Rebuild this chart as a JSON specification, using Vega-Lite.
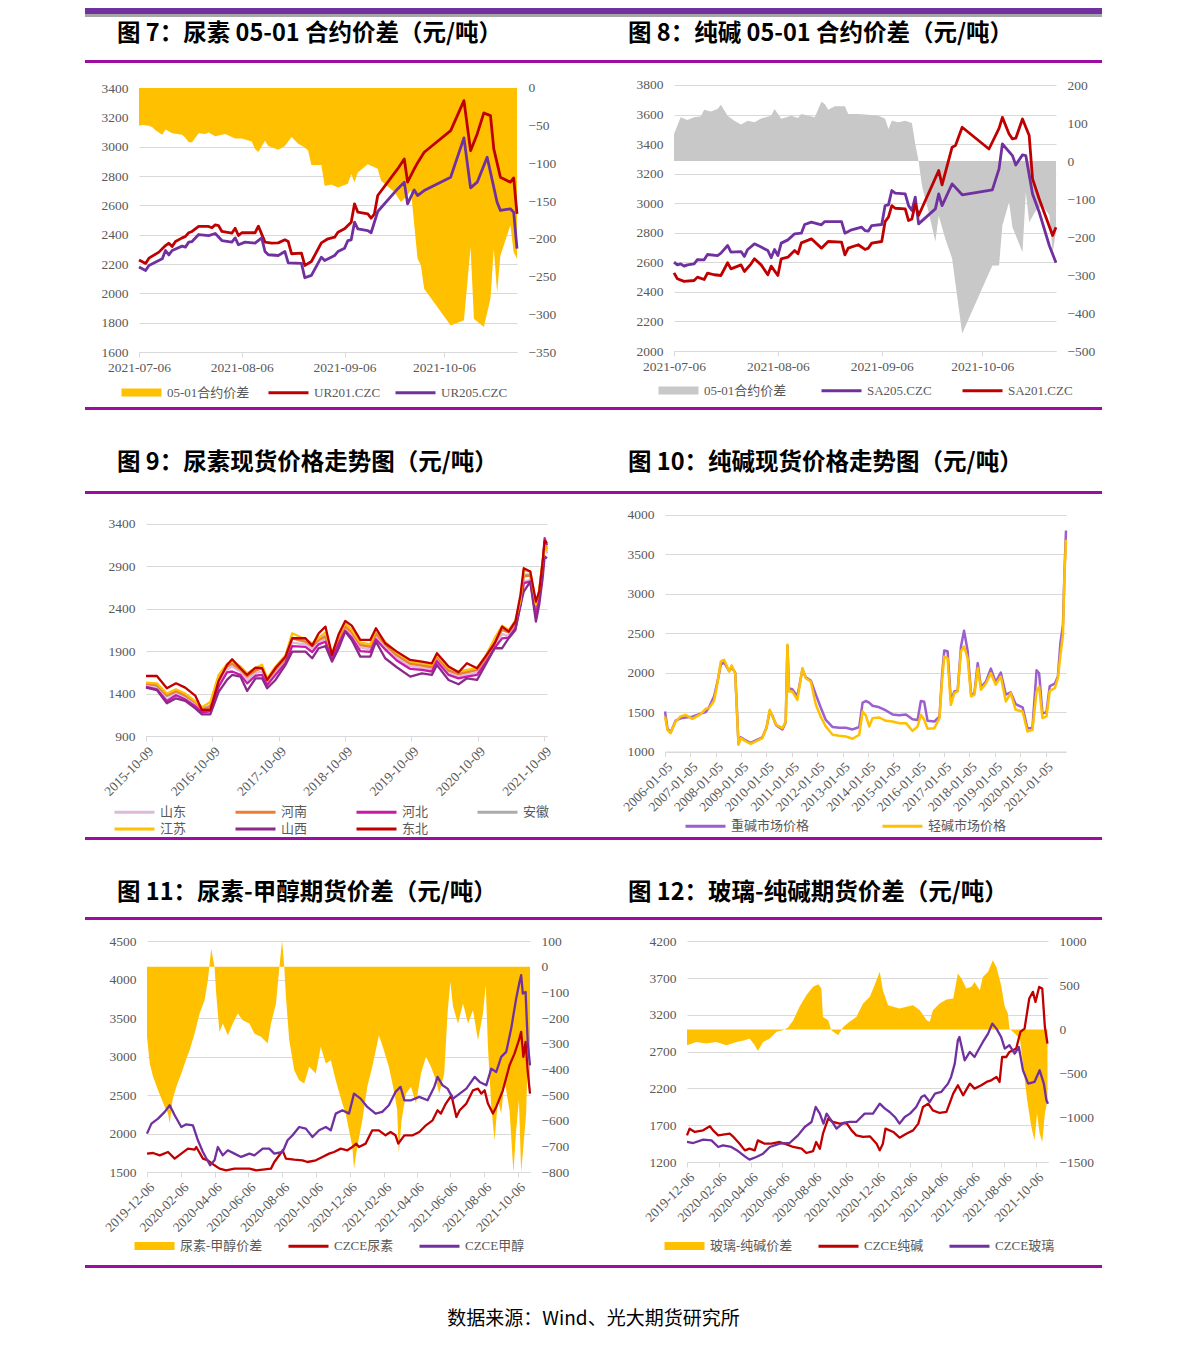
{
"$schema": "https://vega.github.io/schema/vega-lite/v6.json",
"background": "white",
"padding": {"left": 85, "top": 8, "right": 10, "bottom": 10},
"spacing": 40,
"resolve": {"scale": {"color": "independent", "fill": "independent", "stroke": "independent"}, "legend": {"color": "independent", "fill": "independent", "stroke": "independent"}},
"title": {"text": "数据来源：Wind、光大期货研究所", "orient": "bottom", "anchor": "middle", "offset": 42, "font": "Noto Sans CJK SC", "fontSize": 19, "fontWeight": "normal", "color": "#000000"},
"datasets": {
"p7area": [{"d":"2021-07-06","v":-50},{"d":"2021-07-07","v":-49},{"d":"2021-07-09","v":-50},{"d":"2021-07-10","v":-52},{"d":"2021-07-11","v":-56},{"d":"2021-07-13","v":-62},{"d":"2021-07-14","v":-55},{"d":"2021-07-16","v":-60},{"d":"2021-07-19","v":-62},{"d":"2021-07-20","v":-66},{"d":"2021-07-21","v":-72},{"d":"2021-07-22","v":-72},{"d":"2021-07-24","v":-60},{"d":"2021-07-26","v":-61},{"d":"2021-07-27","v":-59},{"d":"2021-07-29","v":-64},{"d":"2021-08-01","v":-61},{"d":"2021-08-04","v":-67},{"d":"2021-08-06","v":-67},{"d":"2021-08-09","v":-71},{"d":"2021-08-10","v":-81},{"d":"2021-08-11","v":-85},{"d":"2021-08-13","v":-70},{"d":"2021-08-14","v":-77},{"d":"2021-08-17","v":-82},{"d":"2021-08-19","v":-77},{"d":"2021-08-21","v":-65},{"d":"2021-08-23","v":-74},{"d":"2021-08-25","v":-79},{"d":"2021-08-26","v":-83},{"d":"2021-08-27","v":-102},{"d":"2021-08-30","v":-102},{"d":"2021-08-31","v":-130},{"d":"2021-09-02","v":-128},{"d":"2021-09-04","v":-132},{"d":"2021-09-07","v":-127},{"d":"2021-09-08","v":-114},{"d":"2021-09-09","v":-125},{"d":"2021-09-10","v":-112},{"d":"2021-09-13","v":-101},{"d":"2021-09-14","v":-103},{"d":"2021-09-16","v":-107},{"d":"2021-09-17","v":-123},{"d":"2021-09-21","v":-138},{"d":"2021-09-23","v":-151},{"d":"2021-09-24","v":-147},{"d":"2021-09-26","v":-136},{"d":"2021-09-28","v":-226},{"d":"2021-09-29","v":-235},{"d":"2021-09-30","v":-266},{"d":"2021-10-08","v":-315},{"d":"2021-10-12","v":-308},{"d":"2021-10-14","v":-211},{"d":"2021-10-15","v":-306},{"d":"2021-10-18","v":-317},{"d":"2021-10-20","v":-279},{"d":"2021-10-21","v":-213},{"d":"2021-10-22","v":-271},{"d":"2021-10-23","v":-222},{"d":"2021-10-26","v":-182},{"d":"2021-10-27","v":-218},{"d":"2021-10-28","v":-226}],
"p7line": [
{"d":"2021-07-06","s":"UR201.CZC","v":2228},{"d":"2021-07-08","s":"UR201.CZC","v":2204},{"d":"2021-07-09","s":"UR201.CZC","v":2240},{"d":"2021-07-12","s":"UR201.CZC","v":2281},{"d":"2021-07-14","s":"UR201.CZC","v":2326},{"d":"2021-07-15","s":"UR201.CZC","v":2342},{"d":"2021-07-16","s":"UR201.CZC","v":2320},{"d":"2021-07-17","s":"UR201.CZC","v":2353},{"d":"2021-07-19","s":"UR201.CZC","v":2378},{"d":"2021-07-20","s":"UR201.CZC","v":2388},{"d":"2021-07-21","s":"UR201.CZC","v":2413},{"d":"2021-07-22","s":"UR201.CZC","v":2422},{"d":"2021-07-24","s":"UR201.CZC","v":2456},{"d":"2021-07-27","s":"UR201.CZC","v":2456},{"d":"2021-07-28","s":"UR201.CZC","v":2447},{"d":"2021-07-29","s":"UR201.CZC","v":2467},{"d":"2021-07-30","s":"UR201.CZC","v":2462},{"d":"2021-07-31","s":"UR201.CZC","v":2422},{"d":"2021-08-03","s":"UR201.CZC","v":2410},{"d":"2021-08-04","s":"UR201.CZC","v":2444},{"d":"2021-08-05","s":"UR201.CZC","v":2394},{"d":"2021-08-06","s":"UR201.CZC","v":2413},{"d":"2021-08-10","s":"UR201.CZC","v":2413},{"d":"2021-08-11","s":"UR201.CZC","v":2458},{"d":"2021-08-13","s":"UR201.CZC","v":2349},{"d":"2021-08-15","s":"UR201.CZC","v":2342},{"d":"2021-08-17","s":"UR201.CZC","v":2344},{"d":"2021-08-19","s":"UR201.CZC","v":2365},{"d":"2021-08-20","s":"UR201.CZC","v":2353},{"d":"2021-08-21","s":"UR201.CZC","v":2270},{"d":"2021-08-24","s":"UR201.CZC","v":2274},{"d":"2021-08-25","s":"UR201.CZC","v":2190},{"d":"2021-08-27","s":"UR201.CZC","v":2217},{"d":"2021-08-30","s":"UR201.CZC","v":2344},{"d":"2021-09-01","s":"UR201.CZC","v":2372},{"d":"2021-09-03","s":"UR201.CZC","v":2383},{"d":"2021-09-04","s":"UR201.CZC","v":2417},{"d":"2021-09-06","s":"UR201.CZC","v":2440},{"d":"2021-09-08","s":"UR201.CZC","v":2485},{"d":"2021-09-09","s":"UR201.CZC","v":2610},{"d":"2021-09-10","s":"UR201.CZC","v":2553},{"d":"2021-09-13","s":"UR201.CZC","v":2542},{"d":"2021-09-14","s":"UR201.CZC","v":2512},{"d":"2021-09-15","s":"UR201.CZC","v":2542},{"d":"2021-09-16","s":"UR201.CZC","v":2667},{"d":"2021-09-22","s":"UR201.CZC","v":2848},{"d":"2021-09-24","s":"UR201.CZC","v":2916},{"d":"2021-09-25","s":"UR201.CZC","v":2758},{"d":"2021-09-27","s":"UR201.CZC","v":2848},{"d":"2021-09-28","s":"UR201.CZC","v":2889},{"d":"2021-09-30","s":"UR201.CZC","v":2962},{"d":"2021-10-08","s":"UR201.CZC","v":3109},{"d":"2021-10-12","s":"UR201.CZC","v":3314},{"d":"2021-10-14","s":"UR201.CZC","v":2973},{"d":"2021-10-16","s":"UR201.CZC","v":3087},{"d":"2021-10-18","s":"UR201.CZC","v":3230},{"d":"2021-10-20","s":"UR201.CZC","v":3212},{"d":"2021-10-21","s":"UR201.CZC","v":2985},{"d":"2021-10-23","s":"UR201.CZC","v":2792},{"d":"2021-10-26","s":"UR201.CZC","v":2758},{"d":"2021-10-27","s":"UR201.CZC","v":2787},{"d":"2021-10-28","s":"UR201.CZC","v":2542},
{"d":"2021-07-06","s":"UR205.CZC","v":2179},{"d":"2021-07-08","s":"UR205.CZC","v":2156},{"d":"2021-07-09","s":"UR205.CZC","v":2190},{"d":"2021-07-13","s":"UR205.CZC","v":2235},{"d":"2021-07-14","s":"UR205.CZC","v":2292},{"d":"2021-07-15","s":"UR205.CZC","v":2262},{"d":"2021-07-16","s":"UR205.CZC","v":2292},{"d":"2021-07-19","s":"UR205.CZC","v":2322},{"d":"2021-07-20","s":"UR205.CZC","v":2315},{"d":"2021-07-21","s":"UR205.CZC","v":2349},{"d":"2021-07-22","s":"UR205.CZC","v":2353},{"d":"2021-07-24","s":"UR205.CZC","v":2401},{"d":"2021-07-27","s":"UR205.CZC","v":2394},{"d":"2021-07-29","s":"UR205.CZC","v":2408},{"d":"2021-07-31","s":"UR205.CZC","v":2360},{"d":"2021-08-03","s":"UR205.CZC","v":2349},{"d":"2021-08-04","s":"UR205.CZC","v":2378},{"d":"2021-08-05","s":"UR205.CZC","v":2331},{"d":"2021-08-07","s":"UR205.CZC","v":2349},{"d":"2021-08-10","s":"UR205.CZC","v":2342},{"d":"2021-08-12","s":"UR205.CZC","v":2378},{"d":"2021-08-13","s":"UR205.CZC","v":2285},{"d":"2021-08-14","s":"UR205.CZC","v":2263},{"d":"2021-08-17","s":"UR205.CZC","v":2258},{"d":"2021-08-19","s":"UR205.CZC","v":2285},{"d":"2021-08-20","s":"UR205.CZC","v":2208},{"d":"2021-08-24","s":"UR205.CZC","v":2204},{"d":"2021-08-25","s":"UR205.CZC","v":2106},{"d":"2021-08-27","s":"UR205.CZC","v":2122},{"d":"2021-08-30","s":"UR205.CZC","v":2247},{"d":"2021-08-31","s":"UR205.CZC","v":2224},{"d":"2021-09-03","s":"UR205.CZC","v":2258},{"d":"2021-09-04","s":"UR205.CZC","v":2285},{"d":"2021-09-06","s":"UR205.CZC","v":2308},{"d":"2021-09-07","s":"UR205.CZC","v":2360},{"d":"2021-09-08","s":"UR205.CZC","v":2365},{"d":"2021-09-09","s":"UR205.CZC","v":2485},{"d":"2021-09-10","s":"UR205.CZC","v":2440},{"d":"2021-09-13","s":"UR205.CZC","v":2428},{"d":"2021-09-14","s":"UR205.CZC","v":2413},{"d":"2021-09-16","s":"UR205.CZC","v":2558},{"d":"2021-09-22","s":"UR205.CZC","v":2712},{"d":"2021-09-24","s":"UR205.CZC","v":2758},{"d":"2021-09-25","s":"UR205.CZC","v":2610},{"d":"2021-09-27","s":"UR205.CZC","v":2705},{"d":"2021-09-28","s":"UR205.CZC","v":2667},{"d":"2021-09-30","s":"UR205.CZC","v":2701},{"d":"2021-10-08","s":"UR205.CZC","v":2792},{"d":"2021-10-12","s":"UR205.CZC","v":3060},{"d":"2021-10-14","s":"UR205.CZC","v":2719},{"d":"2021-10-16","s":"UR205.CZC","v":2758},{"d":"2021-10-19","s":"UR205.CZC","v":2928},{"d":"2021-10-22","s":"UR205.CZC","v":2621},{"d":"2021-10-23","s":"UR205.CZC","v":2565},{"d":"2021-10-26","s":"UR205.CZC","v":2576},{"d":"2021-10-27","s":"UR205.CZC","v":2553},{"d":"2021-10-28","s":"UR205.CZC","v":2304}],
"p8area": [{"d":"2021-07-06","v":71},{"d":"2021-07-08","v":115},{"d":"2021-07-10","v":108},{"d":"2021-07-12","v":115},{"d":"2021-07-14","v":118},{"d":"2021-07-15","v":135},{"d":"2021-07-17","v":130},{"d":"2021-07-19","v":137},{"d":"2021-07-20","v":148},{"d":"2021-07-22","v":119},{"d":"2021-07-24","v":106},{"d":"2021-07-26","v":96},{"d":"2021-07-28","v":106},{"d":"2021-07-30","v":102},{"d":"2021-08-01","v":112},{"d":"2021-08-04","v":119},{"d":"2021-08-05","v":137},{"d":"2021-08-07","v":111},{"d":"2021-08-10","v":119},{"d":"2021-08-12","v":113},{"d":"2021-08-13","v":124},{"d":"2021-08-17","v":115},{"d":"2021-08-19","v":156},{"d":"2021-08-20","v":150},{"d":"2021-08-21","v":135},{"d":"2021-08-23","v":144},{"d":"2021-08-26","v":144},{"d":"2021-08-27","v":124},{"d":"2021-08-30","v":124},{"d":"2021-09-02","v":122},{"d":"2021-09-05","v":119},{"d":"2021-09-07","v":111},{"d":"2021-09-08","v":84},{"d":"2021-09-09","v":106},{"d":"2021-09-11","v":102},{"d":"2021-09-13","v":106},{"d":"2021-09-15","v":100},{"d":"2021-09-16","v":45},{"d":"2021-09-17","v":0},{"d":"2021-09-18","v":-65},{"d":"2021-09-20","v":-135},{"d":"2021-09-22","v":-212},{"d":"2021-09-23","v":-144},{"d":"2021-09-25","v":-205},{"d":"2021-09-27","v":-257},{"d":"2021-09-30","v":-454},{"d":"2021-10-09","v":-275},{"d":"2021-10-11","v":-275},{"d":"2021-10-12","v":-170},{"d":"2021-10-14","v":-108},{"d":"2021-10-15","v":-174},{"d":"2021-10-18","v":-240},{"d":"2021-10-19","v":-82},{"d":"2021-10-20","v":-161},{"d":"2021-10-22","v":-130},{"d":"2021-10-24","v":-117},{"d":"2021-10-26","v":-143},{"d":"2021-10-27","v":-240},{"d":"2021-10-28","v":-187}],
"p8line": [
{"d":"2021-07-06","s":"SA205.CZC","v":2601},{"d":"2021-07-07","s":"SA205.CZC","v":2583},{"d":"2021-07-08","s":"SA205.CZC","v":2590},{"d":"2021-07-09","s":"SA205.CZC","v":2574},{"d":"2021-07-10","s":"SA205.CZC","v":2583},{"d":"2021-07-12","s":"SA205.CZC","v":2590},{"d":"2021-07-13","s":"SA205.CZC","v":2619},{"d":"2021-07-15","s":"SA205.CZC","v":2617},{"d":"2021-07-16","s":"SA205.CZC","v":2653},{"d":"2021-07-19","s":"SA205.CZC","v":2646},{"d":"2021-07-20","s":"SA205.CZC","v":2662},{"d":"2021-07-22","s":"SA205.CZC","v":2714},{"d":"2021-07-23","s":"SA205.CZC","v":2669},{"d":"2021-07-26","s":"SA205.CZC","v":2673},{"d":"2021-07-27","s":"SA205.CZC","v":2640},{"d":"2021-07-28","s":"SA205.CZC","v":2687},{"d":"2021-07-30","s":"SA205.CZC","v":2725},{"d":"2021-08-01","s":"SA205.CZC","v":2703},{"d":"2021-08-03","s":"SA205.CZC","v":2680},{"d":"2021-08-04","s":"SA205.CZC","v":2631},{"d":"2021-08-05","s":"SA205.CZC","v":2687},{"d":"2021-08-06","s":"SA205.CZC","v":2646},{"d":"2021-08-07","s":"SA205.CZC","v":2730},{"d":"2021-08-09","s":"SA205.CZC","v":2752},{"d":"2021-08-11","s":"SA205.CZC","v":2793},{"d":"2021-08-13","s":"SA205.CZC","v":2797},{"d":"2021-08-14","s":"SA205.CZC","v":2856},{"d":"2021-08-16","s":"SA205.CZC","v":2872},{"d":"2021-08-19","s":"SA205.CZC","v":2854},{"d":"2021-08-20","s":"SA205.CZC","v":2876},{"d":"2021-08-25","s":"SA205.CZC","v":2876},{"d":"2021-08-26","s":"SA205.CZC","v":2797},{"d":"2021-08-28","s":"SA205.CZC","v":2820},{"d":"2021-08-31","s":"SA205.CZC","v":2838},{"d":"2021-09-01","s":"SA205.CZC","v":2815},{"d":"2021-09-02","s":"SA205.CZC","v":2811},{"d":"2021-09-03","s":"SA205.CZC","v":2849},{"d":"2021-09-06","s":"SA205.CZC","v":2856},{"d":"2021-09-07","s":"SA205.CZC","v":2984},{"d":"2021-09-08","s":"SA205.CZC","v":2989},{"d":"2021-09-09","s":"SA205.CZC","v":3086},{"d":"2021-09-10","s":"SA205.CZC","v":3068},{"d":"2021-09-13","s":"SA205.CZC","v":3063},{"d":"2021-09-14","s":"SA205.CZC","v":2984},{"d":"2021-09-15","s":"SA205.CZC","v":2951},{"d":"2021-09-16","s":"SA205.CZC","v":3041},{"d":"2021-09-17","s":"SA205.CZC","v":2860},{"d":"2021-09-22","s":"SA205.CZC","v":2962},{"d":"2021-09-23","s":"SA205.CZC","v":3063},{"d":"2021-09-24","s":"SA205.CZC","v":2984},{"d":"2021-09-27","s":"SA205.CZC","v":3131},{"d":"2021-09-30","s":"SA205.CZC","v":3057},{"d":"2021-10-09","s":"SA205.CZC","v":3090},{"d":"2021-10-11","s":"SA205.CZC","v":3232},{"d":"2021-10-12","s":"SA205.CZC","v":3401},{"d":"2021-10-15","s":"SA205.CZC","v":3322},{"d":"2021-10-16","s":"SA205.CZC","v":3259},{"d":"2021-10-18","s":"SA205.CZC","v":3327},{"d":"2021-10-19","s":"SA205.CZC","v":3322},{"d":"2021-10-21","s":"SA205.CZC","v":3063},{"d":"2021-10-23","s":"SA205.CZC","v":2939},{"d":"2021-10-26","s":"SA205.CZC","v":2714},{"d":"2021-10-28","s":"SA205.CZC","v":2597},
{"d":"2021-07-06","s":"SA201.CZC","v":2529},{"d":"2021-07-07","s":"SA201.CZC","v":2489},{"d":"2021-07-09","s":"SA201.CZC","v":2471},{"d":"2021-07-12","s":"SA201.CZC","v":2477},{"d":"2021-07-13","s":"SA201.CZC","v":2500},{"d":"2021-07-15","s":"SA201.CZC","v":2484},{"d":"2021-07-16","s":"SA201.CZC","v":2527},{"d":"2021-07-18","s":"SA201.CZC","v":2516},{"d":"2021-07-20","s":"SA201.CZC","v":2511},{"d":"2021-07-22","s":"SA201.CZC","v":2597},{"d":"2021-07-23","s":"SA201.CZC","v":2556},{"d":"2021-07-26","s":"SA201.CZC","v":2583},{"d":"2021-07-27","s":"SA201.CZC","v":2538},{"d":"2021-07-29","s":"SA201.CZC","v":2590},{"d":"2021-07-30","s":"SA201.CZC","v":2624},{"d":"2021-08-01","s":"SA201.CZC","v":2583},{"d":"2021-08-03","s":"SA201.CZC","v":2516},{"d":"2021-08-04","s":"SA201.CZC","v":2574},{"d":"2021-08-06","s":"SA201.CZC","v":2511},{"d":"2021-08-07","s":"SA201.CZC","v":2624},{"d":"2021-08-09","s":"SA201.CZC","v":2635},{"d":"2021-08-11","s":"SA201.CZC","v":2680},{"d":"2021-08-12","s":"SA201.CZC","v":2658},{"d":"2021-08-13","s":"SA201.CZC","v":2732},{"d":"2021-08-16","s":"SA201.CZC","v":2759},{"d":"2021-08-19","s":"SA201.CZC","v":2696},{"d":"2021-08-21","s":"SA201.CZC","v":2741},{"d":"2021-08-25","s":"SA201.CZC","v":2737},{"d":"2021-08-26","s":"SA201.CZC","v":2651},{"d":"2021-08-27","s":"SA201.CZC","v":2696},{"d":"2021-08-30","s":"SA201.CZC","v":2719},{"d":"2021-09-01","s":"SA201.CZC","v":2687},{"d":"2021-09-02","s":"SA201.CZC","v":2696},{"d":"2021-09-03","s":"SA201.CZC","v":2730},{"d":"2021-09-06","s":"SA201.CZC","v":2741},{"d":"2021-09-07","s":"SA201.CZC","v":2876},{"d":"2021-09-08","s":"SA201.CZC","v":2906},{"d":"2021-09-09","s":"SA201.CZC","v":2984},{"d":"2021-09-10","s":"SA201.CZC","v":2966},{"d":"2021-09-13","s":"SA201.CZC","v":2962},{"d":"2021-09-14","s":"SA201.CZC","v":2883},{"d":"2021-09-15","s":"SA201.CZC","v":2894},{"d":"2021-09-16","s":"SA201.CZC","v":2996},{"d":"2021-09-17","s":"SA201.CZC","v":2917},{"d":"2021-09-23","s":"SA201.CZC","v":3221},{"d":"2021-09-24","s":"SA201.CZC","v":3124},{"d":"2021-09-27","s":"SA201.CZC","v":3379},{"d":"2021-09-28","s":"SA201.CZC","v":3390},{"d":"2021-09-30","s":"SA201.CZC","v":3514},{"d":"2021-10-08","s":"SA201.CZC","v":3367},{"d":"2021-10-11","s":"SA201.CZC","v":3507},{"d":"2021-10-12","s":"SA201.CZC","v":3581},{"d":"2021-10-14","s":"SA201.CZC","v":3469},{"d":"2021-10-15","s":"SA201.CZC","v":3435},{"d":"2021-10-16","s":"SA201.CZC","v":3440},{"d":"2021-10-18","s":"SA201.CZC","v":3570},{"d":"2021-10-20","s":"SA201.CZC","v":3458},{"d":"2021-10-21","s":"SA201.CZC","v":3165},{"d":"2021-10-23","s":"SA201.CZC","v":3029},{"d":"2021-10-27","s":"SA201.CZC","v":2782},{"d":"2021-10-28","s":"SA201.CZC","v":2838}],
"p9": [
{"d":"2015-10-09","东北":1607,"江苏":1530,"安徽":1510,"河南":1520,"山东":1490,"河北":1480,"山西":1470},
{"d":"2015-12-08","东北":1607,"江苏":1520,"安徽":1490,"河南":1500,"山东":1460,"河北":1450,"山西":1440},
{"d":"2016-02-01","东北":1462,"江苏":1400,"安徽":1370,"河南":1380,"山东":1330,"河北":1310,"山西":1285},
{"d":"2016-03-22","东北":1521,"江苏":1450,"安徽":1420,"河南":1430,"山东":1390,"河北":1380,"山西":1344},
{"d":"2016-05-12","东北":1470,"江苏":1400,"安徽":1370,"河南":1380,"山东":1340,"河北":1330,"山西":1313},
{"d":"2016-07-06","东北":1376,"江苏":1310,"安徽":1290,"河南":1300,"山东":1260,"河北":1250,"山西":1226},
{"d":"2016-08-12","东北":1207,"江苏":1240,"安徽":1220,"河南":1210,"山东":1190,"河北":1180,"山西":1155},
{"d":"2016-09-27","东北":1207,"江苏":1300,"安徽":1260,"河南":1240,"山东":1200,"河北":1190,"山西":1155},
{"d":"2016-11-12","东北":1549,"江苏":1620,"安徽":1580,"河南":1570,"山东":1500,"河北":1480,"山西":1420},
{"d":"2016-12-28","东北":1737,"江苏":1750,"安徽":1720,"河南":1720,"山东":1680,"河北":1650,"山西":1561},
{"d":"2017-01-25","东北":1804,"江苏":1780,"安徽":1760,"河南":1750,"山东":1720,"河北":1660,"山西":1619},
{"d":"2017-03-12","东北":1698,"江苏":1720,"安徽":1700,"河南":1680,"山东":1660,"河北":1620,"山西":1600},
{"d":"2017-04-18","东北":1619,"江苏":1640,"安徽":1600,"河南":1600,"山东":1560,"河北":1520,"山西":1431},
{"d":"2017-06-03","东北":1706,"江苏":1700,"安徽":1680,"河南":1670,"山东":1640,"河北":1610,"山西":1580},
{"d":"2017-07-09","东北":1700,"江苏":1740,"安徽":1700,"河南":1700,"山东":1660,"河北":1620,"山西":1580},
{"d":"2017-08-06","东北":1561,"江苏":1580,"安徽":1560,"河南":1550,"山东":1520,"河北":1500,"山西":1462},
{"d":"2017-09-21","东北":1700,"江苏":1720,"安徽":1690,"河南":1680,"山东":1650,"河北":1620,"山西":1560},
{"d":"2017-11-15","东北":1835,"江苏":1850,"安徽":1820,"河南":1810,"山东":1780,"河北":1760,"山西":1737},
{"d":"2017-12-22","东北":2052,"江苏":2110,"安徽":2060,"河南":2050,"山东":2000,"河北":1960,"山西":1894},
{"d":"2018-03-05","东北":2052,"江苏":2040,"安徽":2020,"河南":2010,"山东":1980,"河北":1950,"山西":1894},
{"d":"2018-04-11","东北":1965,"江苏":1990,"安徽":1960,"河南":1960,"山东":1930,"河北":1890,"山西":1816},
{"d":"2018-05-17","东北":2110,"江苏":2060,"安徽":2040,"河南":2030,"山东":2000,"河北":1980,"山西":1934},
{"d":"2018-06-23","东北":2189,"江苏":2120,"安徽":2080,"河南":2070,"山东":2040,"河北":2010,"山西":1960},
{"d":"2018-07-29","东北":1855,"江苏":1880,"安徽":1850,"河南":1840,"山东":1820,"河北":1800,"山西":1776},
{"d":"2018-09-04","东北":2100,"江苏":2080,"安徽":2060,"河南":2050,"山东":2020,"河北":1990,"山西":1934},
{"d":"2018-10-10","东北":2256,"江苏":2230,"安徽":2200,"河南":2190,"山东":2160,"河北":2140,"山西":2130},
{"d":"2018-11-15","东北":2200,"江苏":2150,"安徽":2130,"河南":2120,"山东":2080,"河北":2060,"山西":2032},
{"d":"2019-01-01","东北":2032,"江苏":2000,"安徽":1980,"河南":1970,"山东":1940,"河北":1900,"山西":1835},
{"d":"2019-02-25","东北":2032,"江苏":1980,"安徽":1960,"河南":1950,"山东":1920,"河北":1890,"山西":1835},
{"d":"2019-03-28","东北":2170,"江苏":2150,"安徽":2120,"河南":2100,"山东":2060,"河北":2040,"山西":2012},
{"d":"2019-05-18","东北":1993,"江苏":2010,"安徽":1990,"河南":1980,"山东":1950,"河北":1920,"山西":1816},
{"d":"2019-07-21","东北":1894,"江苏":1880,"安徽":1860,"河南":1850,"山东":1820,"河北":1790,"山西":1710},
{"d":"2019-10-03","东北":1796,"江苏":1780,"安徽":1760,"河南":1750,"山东":1720,"河北":1690,"山西":1600},
{"d":"2019-12-06","东北":1776,"江苏":1760,"安徽":1740,"河南":1730,"山东":1700,"河北":1680,"山西":1639},
{"d":"2020-01-30","东北":1757,"江苏":1740,"安徽":1720,"河南":1710,"山东":1690,"河北":1660,"山西":1619},
{"d":"2020-02-27","东北":1875,"江苏":1860,"安徽":1840,"河南":1830,"山东":1800,"河北":1780,"山西":1737},
{"d":"2020-05-01","东北":1718,"江苏":1700,"安徽":1680,"河南":1670,"山东":1640,"河北":1620,"山西":1560},
{"d":"2020-06-25","东北":1650,"江苏":1660,"安徽":1640,"河南":1630,"山东":1600,"河北":1580,"山西":1510},
{"d":"2020-08-10","东北":1757,"江苏":1680,"安徽":1660,"河南":1650,"山东":1620,"河北":1600,"山西":1580},
{"d":"2020-10-05","东北":1698,"江苏":1700,"安徽":1690,"河南":1680,"山东":1650,"河北":1620,"山西":1561},
{"d":"2020-11-20","东北":1835,"江苏":1840,"安徽":1820,"河南":1810,"山东":1780,"河北":1760,"山西":1737},
{"d":"2021-01-10","东北":1993,"江苏":2050,"安徽":2020,"河南":2000,"山东":1960,"河北":1940,"山西":1934},
{"d":"2021-02-20","东北":2189,"江苏":2200,"安徽":2170,"河南":2150,"山东":2100,"河北":2050,"山西":1934},
{"d":"2021-03-28","东北":2130,"江苏":2150,"安徽":2130,"河南":2120,"山东":2080,"河北":2060,"山西":2052},
{"d":"2021-05-04","东北":2250,"江苏":2260,"安徽":2240,"河南":2230,"山东":2200,"河北":2170,"山西":2150},
{"d":"2021-06-01","东北":2563,"江苏":2500,"安徽":2480,"河南":2470,"山东":2450,"河北":2440,"山西":2445},
{"d":"2021-06-19","东北":2877,"江苏":2850,"安徽":2800,"河南":2780,"山东":2720,"河北":2700,"山西":2602},
{"d":"2021-07-25","东北":2837,"江苏":2840,"安徽":2800,"河南":2790,"山东":2740,"河北":2720,"山西":2720},
{"d":"2021-08-25","东北":2484,"江苏":2450,"安徽":2420,"河南":2400,"山东":2350,"河北":2300,"山西":2248},
{"d":"2021-09-12","东北":2602,"江苏":2620,"安徽":2600,"河南":2590,"山东":2560,"河北":2540,"山西":2445},
{"d":"2021-10-01","东北":2956,"江苏":2960,"安徽":2940,"河南":2930,"山东":2900,"河北":2920,"山西":2759},
{"d":"2021-10-12","东北":3199,"江苏":3150,"安徽":3180,"河南":3160,"山东":3190,"河北":3230,"山西":3015},
{"d":"2021-10-25","东北":3172,"江苏":3080,"安徽":3120,"河南":3100,"山东":3050,"河北":3150,"山西":2995}],
"p10": [
{"d":"2006-01-05","重碱市场价格":1507,"轻碱市场价格":1444},{"d":"2006-02-10","重碱市场价格":1290,"轻碱市场价格":1275},{"d":"2006-03-27","重碱市场价格":1240,"轻碱市场价格":1233},{"d":"2006-06-07","重碱市场价格":1390,"轻碱市场价格":1380},{"d":"2006-08-19","重碱市场价格":1420,"轻碱市场价格":1444},{"d":"2006-10-27","重碱市场价格":1430,"轻碱市场价格":1465},{"d":"2007-02-03","重碱市场价格":1440,"轻碱市场价格":1414},{"d":"2007-06-03","重碱市场价格":1480,"轻碱市场价格":1474},{"d":"2007-08-15","重碱市场价格":1500,"轻碱市场价格":1541},{"d":"2007-10-01","重碱市场价格":1560,"轻碱市场价格":1550},{"d":"2007-12-13","重碱市场价格":1700,"轻碱市场价格":1643},{"d":"2008-01-30","重碱市场价格":1880,"轻碱市场价格":1866},{"d":"2008-03-18","重碱市场价格":2100,"轻碱市场价格":2141},{"d":"2008-05-05","重碱市场价格":2130,"轻碱市场价格":2162},{"d":"2008-07-17","重碱市场价格":2020,"轻碱市场价格":2014},{"d":"2008-08-22","重碱市场价格":2070,"轻碱市场价格":2090},{"d":"2008-10-12","重碱市场价格":2000,"轻碱市场价格":1993},{"d":"2008-11-28","重碱市场价格":1100,"轻碱市场价格":1085},{"d":"2009-01-01","重碱市场价格":1180,"轻碱市场价格":1170},{"d":"2009-03-15","重碱市场价格":1140,"轻碱市场价格":1127},{"d":"2009-05-23","重碱市场价格":1110,"轻碱市场价格":1098},{"d":"2009-08-04","重碱市场价格":1140,"轻碱市场价格":1127},{"d":"2009-11-07","重碱市场价格":1180,"轻碱市场价格":1170},{"d":"2010-01-05","重碱市场价格":1300,"轻碱市场价格":1296},{"d":"2010-02-21","重碱市场价格":1510,"轻碱市场价格":1528},{"d":"2010-04-02","重碱市场价格":1450,"轻碱市场价格":1444},{"d":"2010-05-27","重碱市场价格":1330,"轻碱市场价格":1338},{"d":"2010-08-23","重碱市场价格":1280,"轻碱市场价格":1296},{"d":"2010-10-09","重碱市场价格":1370,"轻碱市场价格":1380},{"d":"2010-11-03","重碱市场价格":2340,"轻碱市场价格":2352},{"d":"2010-11-25","重碱市场价格":1800,"轻碱市场价格":1761},{"d":"2011-01-12","重碱市场价格":1790,"轻碱市场价格":1761},{"d":"2011-03-26","重碱市场价格":1700,"轻碱市场价格":1655},{"d":"2011-06-07","重碱市场价格":2040,"轻碱市场价格":2057},{"d":"2011-07-24","重碱市场价格":1940,"轻碱市场价格":1930},{"d":"2011-10-05","重碱市场价格":1900,"轻碱市场价格":1888},{"d":"2011-12-17","重碱市场价格":1720,"轻碱市场价格":1592},{"d":"2012-02-24","重碱市场价格":1560,"轻碱市场价格":1444},{"d":"2012-05-08","重碱市场价格":1400,"轻碱市场价格":1317},{"d":"2012-08-15","重碱市场价格":1310,"轻碱市场价格":1212},{"d":"2012-11-18","重碱市场价格":1300,"轻碱市场价格":1199},{"d":"2013-02-21","重碱市场价格":1300,"轻碱市场价格":1190},{"d":"2013-05-30","重碱市场价格":1280,"轻碱市场价格":1161},{"d":"2013-09-02","重碱市场价格":1310,"轻碱市场价格":1212},{"d":"2013-10-20","重碱市场价格":1620,"轻碱市场价格":1507},{"d":"2013-12-06","重碱市场价格":1640,"轻碱市场价格":1457},{"d":"2014-01-23","重碱市场价格":1620,"轻碱市场价格":1317},{"d":"2014-03-12","重碱市场价格":1580,"轻碱市场价格":1423},{"d":"2014-06-18","重碱市场价格":1560,"轻碱市场价格":1431},{"d":"2014-09-21","重碱市场价格":1520,"轻碱市场价格":1389},{"d":"2014-12-25","重碱市场价格":1470,"轻碱市场价格":1380},{"d":"2015-04-02","重碱市场价格":1460,"轻碱市场价格":1359},{"d":"2015-07-06","重碱市场价格":1470,"轻碱市场价格":1359},{"d":"2015-10-09","重碱市场价格":1410,"轻碱市场价格":1262},{"d":"2015-12-21","重碱市场价格":1400,"轻碱市场价格":1317},{"d":"2016-02-06","重碱市场价格":1640,"轻碱市场价格":1465},{"d":"2016-03-25","重碱市场价格":1630,"轻碱市场价格":1402},{"d":"2016-05-12","重碱市场价格":1390,"轻碱市场价格":1288},{"d":"2016-08-19","重碱市场价格":1380,"轻碱市场价格":1296},{"d":"2016-10-31","重碱市场价格":1440,"轻碱市场价格":1423},{"d":"2016-12-06","重碱市场价格":1950,"轻碱市场价格":1888},{"d":"2017-01-08","重碱市场价格":2280,"轻碱市场价格":2204},{"d":"2017-02-25","重碱市场价格":2270,"轻碱市场价格":2183},{"d":"2017-04-13","重碱市场价格":1650,"轻碱市场价格":1592},{"d":"2017-06-03","重碱市场价格":1760,"轻碱市场价格":1740},{"d":"2017-07-20","重碱市场价格":1770,"轻碱市场价格":1761},{"d":"2017-09-06","重碱市场价格":2330,"轻碱市场价格":2268},{"d":"2017-10-20","重碱市场价格":2530,"轻碱市场价格":2331},{"d":"2017-12-10","重碱市场价格":2280,"轻碱市场价格":2183},{"d":"2018-01-30","重碱市场价格":1720,"轻碱市场价格":1698},{"d":"2018-03-18","重碱市场价格":1740,"轻碱市场价格":1718},{"d":"2018-05-05","重碱市场价格":2120,"轻碱市场价格":2057},{"d":"2018-06-21","重碱市场价格":1810,"轻碱市场价格":1782},{"d":"2018-09-02","重碱市场价格":1890,"轻碱市场价格":1866},{"d":"2018-11-10","重碱市场价格":2050,"轻碱市场价格":1993},{"d":"2019-01-19","重碱市场价格":1880,"轻碱市场价格":1845},{"d":"2019-04-02","重碱市场价格":2000,"轻碱市场价格":1951},{"d":"2019-06-14","重碱市场价格":1720,"轻碱市场价格":1634},{"d":"2019-08-22","重碱市场价格":1750,"轻碱市场价格":1740},{"d":"2019-11-03","重碱市场价格":1600,"轻碱市场价格":1528},{"d":"2020-02-10","重碱市场价格":1560,"轻碱市场价格":1507},{"d":"2020-04-20","重碱市场价格":1290,"轻碱市场价格":1254},{"d":"2020-07-01","重碱市场价格":1300,"轻碱市场价格":1275},{"d":"2020-08-29","重碱市场价格":2030,"轻碱市场价格":1761},{"d":"2020-10-05","重碱市场价格":1990,"轻碱市场价格":1824},{"d":"2020-11-22","重碱市场价格":1480,"轻碱市场价格":1423},{"d":"2021-01-19","重碱市场价格":1500,"轻碱市场价格":1444},{"d":"2021-03-07","重碱市场价格":1830,"轻碱市场价格":1769},{"d":"2021-05-19","重碱市场价格":1860,"轻碱市场价格":1803},{"d":"2021-07-02","重碱市场价格":1950,"轻碱市场价格":1930},{"d":"2021-08-08","重碱市场价格":2380,"轻碱市场价格":2226},{"d":"2021-09-13","重碱市场价格":2600,"轻碱市场价格":2479},{"d":"2021-10-05","重碱市场价格":3280,"轻碱市场价格":3240},{"d":"2021-10-27","重碱市场价格":3800,"轻碱市场价格":3683}],
"p11area": [{"d":"2019-12-06","v":-273},{"d":"2019-12-11","v":-377},{"d":"2019-12-17","v":-429},{"d":"2019-12-26","v":-481},{"d":"2020-01-07","v":-546},{"d":"2020-01-13","v":-572},{"d":"2020-01-16","v":-611},{"d":"2020-01-21","v":-520},{"d":"2020-01-28","v":-468},{"d":"2020-02-06","v":-416},{"d":"2020-02-15","v":-358},{"d":"2020-02-21","v":-325},{"d":"2020-03-01","v":-260},{"d":"2020-03-10","v":-182},{"d":"2020-03-19","v":-130},{"d":"2020-03-25","v":-52},{"d":"2020-03-31","v":71},{"d":"2020-04-06","v":0},{"d":"2020-04-09","v":-104},{"d":"2020-04-15","v":-254},{"d":"2020-04-21","v":-221},{"d":"2020-04-30","v":-267},{"d":"2020-05-09","v":-221},{"d":"2020-05-18","v":-182},{"d":"2020-05-27","v":-208},{"d":"2020-06-08","v":-221},{"d":"2020-06-17","v":-260},{"d":"2020-06-29","v":-273},{"d":"2020-07-11","v":-299},{"d":"2020-07-17","v":-221},{"d":"2020-07-26","v":-143},{"d":"2020-08-01","v":-6},{"d":"2020-08-06","v":104},{"d":"2020-08-10","v":0},{"d":"2020-08-13","v":-117},{"d":"2020-08-19","v":-286},{"d":"2020-08-28","v":-403},{"d":"2020-09-06","v":-442},{"d":"2020-09-15","v":-455},{"d":"2020-09-24","v":-390},{"d":"2020-10-06","v":-416},{"d":"2020-10-15","v":-312},{"d":"2020-10-24","v":-377},{"d":"2020-11-02","v":-364},{"d":"2020-11-11","v":-442},{"d":"2020-11-23","v":-533},{"d":"2020-11-29","v":-572},{"d":"2020-12-05","v":-637},{"d":"2020-12-11","v":-702},{"d":"2020-12-14","v":-787},{"d":"2020-12-20","v":-702},{"d":"2020-12-29","v":-598},{"d":"2021-01-07","v":-468},{"d":"2021-01-16","v":-390},{"d":"2021-01-28","v":-267},{"d":"2021-02-06","v":-325},{"d":"2021-02-15","v":-390},{"d":"2021-02-24","v":-481},{"d":"2021-03-02","v":-559},{"d":"2021-03-05","v":-728},{"d":"2021-03-10","v":-598},{"d":"2021-03-18","v":-494},{"d":"2021-03-27","v":-468},{"d":"2021-04-05","v":-533},{"d":"2021-04-14","v":-416},{"d":"2021-04-23","v":-351},{"d":"2021-05-02","v":-390},{"d":"2021-05-11","v":-442},{"d":"2021-05-17","v":-494},{"d":"2021-05-26","v":-416},{"d":"2021-06-01","v":-182},{"d":"2021-06-06","v":-59},{"d":"2021-06-11","v":-156},{"d":"2021-06-20","v":-221},{"d":"2021-06-29","v":-143},{"d":"2021-07-08","v":-221},{"d":"2021-07-17","v":-169},{"d":"2021-07-26","v":-286},{"d":"2021-08-04","v":-182},{"d":"2021-08-09","v":-72},{"d":"2021-08-13","v":-312},{"d":"2021-08-19","v":-546},{"d":"2021-08-25","v":-676},{"d":"2021-08-31","v":-520},{"d":"2021-09-06","v":-572},{"d":"2021-09-12","v":-442},{"d":"2021-09-21","v":-559},{"d":"2021-09-28","v":-800},{"d":"2021-10-03","v":-637},{"d":"2021-10-08","v":-520},{"d":"2021-10-12","v":-800},{"d":"2021-10-16","v":-702},{"d":"2021-10-21","v":-572},{"d":"2021-10-24","v":-338},{"d":"2021-10-28","v":-481}],
"p11line": [
{"d":"2019-12-06","s":"CZCE尿素","v":1739},{"d":"2019-12-17","s":"CZCE尿素","v":1747},{"d":"2019-12-29","s":"CZCE尿素","v":1717},{"d":"2020-01-13","s":"CZCE尿素","v":1760},{"d":"2020-01-25","s":"CZCE尿素","v":1674},{"d":"2020-02-06","s":"CZCE尿素","v":1739},{"d":"2020-02-18","s":"CZCE尿素","v":1804},{"d":"2020-03-01","s":"CZCE尿素","v":1791},{"d":"2020-03-04","s":"CZCE尿素","v":1825},{"d":"2020-03-16","s":"CZCE尿素","v":1674},{"d":"2020-03-25","s":"CZCE尿素","v":1652},{"d":"2020-04-06","s":"CZCE尿素","v":1587},{"d":"2020-04-15","s":"CZCE尿素","v":1544},{"d":"2020-04-27","s":"CZCE尿素","v":1522},{"d":"2020-05-12","s":"CZCE尿素","v":1544},{"d":"2020-05-27","s":"CZCE尿素","v":1544},{"d":"2020-06-08","s":"CZCE尿素","v":1544},{"d":"2020-06-20","s":"CZCE尿素","v":1522},{"d":"2020-07-02","s":"CZCE尿素","v":1531},{"d":"2020-07-17","s":"CZCE尿素","v":1544},{"d":"2020-07-23","s":"CZCE尿素","v":1630},{"d":"2020-08-01","s":"CZCE尿素","v":1717},{"d":"2020-08-07","s":"CZCE尿素","v":1782},{"d":"2020-08-13","s":"CZCE尿素","v":1674},{"d":"2020-08-28","s":"CZCE尿素","v":1661},{"d":"2020-09-12","s":"CZCE尿素","v":1652},{"d":"2020-09-21","s":"CZCE尿素","v":1630},{"d":"2020-10-06","s":"CZCE尿素","v":1652},{"d":"2020-10-18","s":"CZCE尿素","v":1696},{"d":"2020-10-30","s":"CZCE尿素","v":1739},{"d":"2020-11-08","s":"CZCE尿素","v":1760},{"d":"2020-11-20","s":"CZCE尿素","v":1804},{"d":"2020-12-02","s":"CZCE尿素","v":1782},{"d":"2020-12-11","s":"CZCE尿素","v":1825},{"d":"2020-12-18","s":"CZCE尿素","v":1869},{"d":"2020-12-23","s":"CZCE尿素","v":1825},{"d":"2021-01-04","s":"CZCE尿素","v":1869},{"d":"2021-01-16","s":"CZCE尿素","v":2042},{"d":"2021-01-28","s":"CZCE尿素","v":2042},{"d":"2021-02-09","s":"CZCE尿素","v":1977},{"d":"2021-02-18","s":"CZCE尿素","v":2020},{"d":"2021-02-27","s":"CZCE尿素","v":1977},{"d":"2021-03-04","s":"CZCE尿素","v":1869},{"d":"2021-03-15","s":"CZCE尿素","v":1977},{"d":"2021-03-30","s":"CZCE尿素","v":1977},{"d":"2021-04-11","s":"CZCE尿素","v":2020},{"d":"2021-04-23","s":"CZCE尿素","v":2107},{"d":"2021-05-05","s":"CZCE尿素","v":2172},{"d":"2021-05-14","s":"CZCE尿素","v":2302},{"d":"2021-05-20","s":"CZCE尿素","v":2259},{"d":"2021-05-29","s":"CZCE尿素","v":2389},{"d":"2021-06-08","s":"CZCE尿素","v":2497},{"d":"2021-06-17","s":"CZCE尿素","v":2215},{"d":"2021-06-23","s":"CZCE尿素","v":2302},{"d":"2021-07-05","s":"CZCE尿素","v":2389},{"d":"2021-07-17","s":"CZCE尿素","v":2562},{"d":"2021-07-26","s":"CZCE尿素","v":2584},{"d":"2021-08-01","s":"CZCE尿素","v":2519},{"d":"2021-08-07","s":"CZCE尿素","v":2562},{"d":"2021-08-13","s":"CZCE尿素","v":2389},{"d":"2021-08-22","s":"CZCE尿素","v":2259},{"d":"2021-08-28","s":"CZCE尿素","v":2346},{"d":"2021-09-09","s":"CZCE尿素","v":2562},{"d":"2021-09-21","s":"CZCE尿素","v":2887},{"d":"2021-09-30","s":"CZCE尿素","v":3039},{"d":"2021-10-08","s":"CZCE尿素","v":3213},{"d":"2021-10-12","s":"CZCE尿素","v":3321},{"d":"2021-10-16","s":"CZCE尿素","v":2996},{"d":"2021-10-20","s":"CZCE尿素","v":3191},{"d":"2021-10-24","s":"CZCE尿素","v":2801},{"d":"2021-10-28","s":"CZCE尿素","v":2519},
{"d":"2019-12-06","s":"CZCE甲醇","v":1999},{"d":"2019-12-14","s":"CZCE甲醇","v":2129},{"d":"2019-12-26","s":"CZCE甲醇","v":2194},{"d":"2020-01-07","s":"CZCE甲醇","v":2281},{"d":"2020-01-16","s":"CZCE甲醇","v":2367},{"d":"2020-01-25","s":"CZCE甲醇","v":2237},{"d":"2020-02-06","s":"CZCE甲醇","v":2085},{"d":"2020-02-15","s":"CZCE甲醇","v":2120},{"d":"2020-02-27","s":"CZCE甲醇","v":2107},{"d":"2020-03-07","s":"CZCE甲醇","v":1912},{"d":"2020-03-16","s":"CZCE甲醇","v":1760},{"d":"2020-03-29","s":"CZCE甲醇","v":1587},{"d":"2020-04-06","s":"CZCE甲醇","v":1652},{"d":"2020-04-12","s":"CZCE甲醇","v":1825},{"d":"2020-04-21","s":"CZCE甲醇","v":1717},{"d":"2020-04-30","s":"CZCE甲醇","v":1782},{"d":"2020-05-12","s":"CZCE甲醇","v":1739},{"d":"2020-05-24","s":"CZCE甲醇","v":1696},{"d":"2020-06-08","s":"CZCE甲醇","v":1739},{"d":"2020-06-17","s":"CZCE甲醇","v":1717},{"d":"2020-07-02","s":"CZCE甲醇","v":1804},{"d":"2020-07-14","s":"CZCE甲醇","v":1804},{"d":"2020-07-23","s":"CZCE甲醇","v":1739},{"d":"2020-08-07","s":"CZCE甲醇","v":1760},{"d":"2020-08-16","s":"CZCE甲醇","v":1912},{"d":"2020-08-25","s":"CZCE甲醇","v":1977},{"d":"2020-09-06","s":"CZCE甲醇","v":2085},{"d":"2020-09-18","s":"CZCE甲醇","v":2064},{"d":"2020-09-30","s":"CZCE甲醇","v":1955},{"d":"2020-10-12","s":"CZCE甲醇","v":2042},{"d":"2020-10-24","s":"CZCE甲醇","v":2085},{"d":"2020-11-02","s":"CZCE甲醇","v":2042},{"d":"2020-11-11","s":"CZCE甲醇","v":2259},{"d":"2020-11-23","s":"CZCE甲醇","v":2302},{"d":"2020-12-05","s":"CZCE甲醇","v":2259},{"d":"2020-12-14","s":"CZCE甲醇","v":2519},{"d":"2020-12-26","s":"CZCE甲醇","v":2454},{"d":"2021-01-07","s":"CZCE甲醇","v":2346},{"d":"2021-01-22","s":"CZCE甲醇","v":2259},{"d":"2021-02-03","s":"CZCE甲醇","v":2281},{"d":"2021-02-15","s":"CZCE甲醇","v":2367},{"d":"2021-02-27","s":"CZCE甲醇","v":2541},{"d":"2021-03-08","s":"CZCE甲醇","v":2606},{"d":"2021-03-15","s":"CZCE甲醇","v":2432},{"d":"2021-03-27","s":"CZCE甲醇","v":2432},{"d":"2021-04-11","s":"CZCE甲醇","v":2476},{"d":"2021-04-26","s":"CZCE甲醇","v":2432},{"d":"2021-05-08","s":"CZCE甲醇","v":2606},{"d":"2021-05-14","s":"CZCE甲醇","v":2736},{"d":"2021-05-23","s":"CZCE甲醇","v":2627},{"d":"2021-06-01","s":"CZCE甲醇","v":2584},{"d":"2021-06-11","s":"CZCE甲醇","v":2454},{"d":"2021-06-23","s":"CZCE甲醇","v":2519},{"d":"2021-07-05","s":"CZCE甲醇","v":2584},{"d":"2021-07-20","s":"CZCE甲醇","v":2736},{"d":"2021-07-29","s":"CZCE甲醇","v":2671},{"d":"2021-08-10","s":"CZCE甲醇","v":2627},{"d":"2021-08-19","s":"CZCE甲醇","v":2844},{"d":"2021-08-28","s":"CZCE甲醇","v":2800},{"d":"2021-09-06","s":"CZCE甲醇","v":2996},{"d":"2021-09-15","s":"CZCE甲醇","v":3061},{"d":"2021-09-24","s":"CZCE甲醇","v":3364},{"d":"2021-10-03","s":"CZCE甲醇","v":3754},{"d":"2021-10-09","s":"CZCE甲醇","v":3971},{"d":"2021-10-12","s":"CZCE甲醇","v":4058},{"d":"2021-10-15","s":"CZCE甲醇","v":3819},{"d":"2021-10-20","s":"CZCE甲醇","v":3841},{"d":"2021-10-24","s":"CZCE甲醇","v":3169},{"d":"2021-10-28","s":"CZCE甲醇","v":2887}],
"p12area": [{"d":"2019-12-06","v":-178},{"d":"2019-12-24","v":-140},{"d":"2020-01-12","v":-159},{"d":"2020-01-31","v":-140},{"d":"2020-02-20","v":-178},{"d":"2020-03-10","v":-140},{"d":"2020-03-26","v":-121},{"d":"2020-04-04","v":-102},{"d":"2020-04-14","v":-178},{"d":"2020-04-20","v":-242},{"d":"2020-04-30","v":-140},{"d":"2020-05-13","v":-102},{"d":"2020-05-26","v":-26},{"d":"2020-06-07","v":-8},{"d":"2020-06-17","v":23},{"d":"2020-06-27","v":106},{"d":"2020-07-09","v":257},{"d":"2020-07-22","v":389},{"d":"2020-08-04","v":483},{"d":"2020-08-14","v":513},{"d":"2020-08-20","v":464},{"d":"2020-08-23","v":143},{"d":"2020-09-02","v":106},{"d":"2020-09-08","v":-8},{"d":"2020-09-21","v":-64},{"d":"2020-10-01","v":30},{"d":"2020-10-13","v":87},{"d":"2020-10-26","v":143},{"d":"2020-11-08","v":294},{"d":"2020-11-21","v":370},{"d":"2020-11-30","v":502},{"d":"2020-12-10","v":653},{"d":"2020-12-16","v":445},{"d":"2020-12-26","v":275},{"d":"2021-01-05","v":257},{"d":"2021-01-17","v":238},{"d":"2021-01-30","v":257},{"d":"2021-02-12","v":275},{"d":"2021-02-25","v":219},{"d":"2021-03-10","v":106},{"d":"2021-03-16","v":87},{"d":"2021-03-22","v":219},{"d":"2021-04-04","v":294},{"d":"2021-04-17","v":340},{"d":"2021-04-30","v":351},{"d":"2021-05-09","v":634},{"d":"2021-05-16","v":577},{"d":"2021-05-25","v":464},{"d":"2021-06-04","v":483},{"d":"2021-06-10","v":539},{"d":"2021-06-20","v":445},{"d":"2021-06-26","v":596},{"d":"2021-07-06","v":653},{"d":"2021-07-15","v":785},{"d":"2021-07-22","v":709},{"d":"2021-07-31","v":502},{"d":"2021-08-07","v":257},{"d":"2021-08-13","v":181},{"d":"2021-08-16","v":11},{"d":"2021-08-26","v":-45},{"d":"2021-09-05","v":-102},{"d":"2021-09-11","v":-385},{"d":"2021-09-19","v":-801},{"d":"2021-09-27","v":-1104},{"d":"2021-10-03","v":-1254},{"d":"2021-10-08","v":-952},{"d":"2021-10-13","v":-1179},{"d":"2021-10-18","v":-1273},{"d":"2021-10-23","v":-952},{"d":"2021-10-28","v":-800}],
"p12line": [
{"d":"2019-12-06","s":"CZCE纯碱","v":1562},{"d":"2019-12-11","s":"CZCE纯碱","v":1653},{"d":"2019-12-21","s":"CZCE纯碱","v":1608},{"d":"2020-01-06","s":"CZCE纯碱","v":1630},{"d":"2020-01-19","s":"CZCE纯碱","v":1685},{"d":"2020-01-25","s":"CZCE纯碱","v":1630},{"d":"2020-02-04","s":"CZCE纯碱","v":1562},{"d":"2020-02-26","s":"CZCE纯碱","v":1585},{"d":"2020-03-03","s":"CZCE纯碱","v":1549},{"d":"2020-03-16","s":"CZCE纯碱","v":1449},{"d":"2020-03-26","s":"CZCE纯碱","v":1358},{"d":"2020-04-04","s":"CZCE纯碱","v":1381},{"d":"2020-04-14","s":"CZCE纯碱","v":1358},{"d":"2020-04-20","s":"CZCE纯碱","v":1494},{"d":"2020-05-03","s":"CZCE纯碱","v":1449},{"d":"2020-05-16","s":"CZCE纯碱","v":1449},{"d":"2020-06-01","s":"CZCE纯碱","v":1472},{"d":"2020-06-14","s":"CZCE纯碱","v":1440},{"d":"2020-06-27","s":"CZCE纯碱","v":1404},{"d":"2020-07-13","s":"CZCE纯碱","v":1381},{"d":"2020-07-22","s":"CZCE纯碱","v":1322},{"d":"2020-08-04","s":"CZCE纯碱","v":1349},{"d":"2020-08-10","s":"CZCE纯碱","v":1472},{"d":"2020-08-17","s":"CZCE纯碱","v":1381},{"d":"2020-08-23","s":"CZCE纯碱","v":1585},{"d":"2020-09-02","s":"CZCE纯碱","v":1789},{"d":"2020-09-11","s":"CZCE纯碱","v":1744},{"d":"2020-09-24","s":"CZCE纯碱","v":1721},{"d":"2020-10-07","s":"CZCE纯碱","v":1730},{"d":"2020-10-17","s":"CZCE纯碱","v":1630},{"d":"2020-10-26","s":"CZCE纯碱","v":1562},{"d":"2020-11-08","s":"CZCE纯碱","v":1540},{"d":"2020-11-21","s":"CZCE纯碱","v":1549},{"d":"2020-12-04","s":"CZCE纯碱","v":1449},{"d":"2020-12-10","s":"CZCE纯碱","v":1358},{"d":"2020-12-16","s":"CZCE纯碱","v":1449},{"d":"2020-12-21","s":"CZCE纯碱","v":1653},{"d":"2021-01-05","s":"CZCE纯碱","v":1608},{"d":"2021-01-17","s":"CZCE纯碱","v":1531},{"d":"2021-01-30","s":"CZCE纯碱","v":1585},{"d":"2021-02-12","s":"CZCE纯碱","v":1630},{"d":"2021-02-22","s":"CZCE纯碱","v":1721},{"d":"2021-03-03","s":"CZCE纯碱","v":1948},{"d":"2021-03-13","s":"CZCE纯碱","v":1993},{"d":"2021-03-22","s":"CZCE纯碱","v":1902},{"d":"2021-04-04","s":"CZCE纯碱","v":1866},{"d":"2021-04-17","s":"CZCE纯碱","v":1880},{"d":"2021-04-23","s":"CZCE纯碱","v":1993},{"d":"2021-04-30","s":"CZCE纯碱","v":2129},{"d":"2021-05-09","s":"CZCE纯碱","v":2242},{"d":"2021-05-19","s":"CZCE纯碱","v":2106},{"d":"2021-06-01","s":"CZCE纯碱","v":2265},{"d":"2021-06-10","s":"CZCE纯碱","v":2197},{"d":"2021-06-23","s":"CZCE纯碱","v":2242},{"d":"2021-07-03","s":"CZCE纯碱","v":2288},{"d":"2021-07-12","s":"CZCE纯碱","v":2310},{"d":"2021-07-22","s":"CZCE纯碱","v":2356},{"d":"2021-07-28","s":"CZCE纯碱","v":2288},{"d":"2021-08-02","s":"CZCE纯碱","v":2627},{"d":"2021-08-10","s":"CZCE纯碱","v":2627},{"d":"2021-08-16","s":"CZCE纯碱","v":2695},{"d":"2021-08-29","s":"CZCE纯碱","v":2741},{"d":"2021-09-06","s":"CZCE纯碱","v":2967},{"d":"2021-09-14","s":"CZCE纯碱","v":3012},{"d":"2021-09-23","s":"CZCE纯碱","v":3421},{"d":"2021-09-30","s":"CZCE纯碱","v":3512},{"d":"2021-10-05","s":"CZCE纯碱","v":3375},{"d":"2021-10-12","s":"CZCE纯碱","v":3579},{"d":"2021-10-18","s":"CZCE纯碱","v":3557},{"d":"2021-10-23","s":"CZCE纯碱","v":3035},{"d":"2021-10-28","s":"CZCE纯碱","v":2809},
{"d":"2019-12-06","s":"CZCE玻璃","v":1472},{"d":"2019-12-18","s":"CZCE玻璃","v":1458},{"d":"2020-01-06","s":"CZCE玻璃","v":1504},{"d":"2020-01-22","s":"CZCE玻璃","v":1494},{"d":"2020-02-04","s":"CZCE玻璃","v":1404},{"d":"2020-02-13","s":"CZCE玻璃","v":1427},{"d":"2020-02-29","s":"CZCE玻璃","v":1404},{"d":"2020-03-13","s":"CZCE玻璃","v":1349},{"d":"2020-03-26","s":"CZCE玻璃","v":1277},{"d":"2020-04-04","s":"CZCE玻璃","v":1232},{"d":"2020-04-17","s":"CZCE玻璃","v":1268},{"d":"2020-04-30","s":"CZCE玻璃","v":1313},{"d":"2020-05-13","s":"CZCE玻璃","v":1404},{"d":"2020-06-01","s":"CZCE玻璃","v":1449},{"d":"2020-06-20","s":"CZCE玻璃","v":1458},{"d":"2020-07-06","s":"CZCE玻璃","v":1562},{"d":"2020-07-19","s":"CZCE玻璃","v":1676},{"d":"2020-08-01","s":"CZCE玻璃","v":1744},{"d":"2020-08-09","s":"CZCE玻璃","v":1948},{"d":"2020-08-17","s":"CZCE玻璃","v":1857},{"d":"2020-08-24","s":"CZCE玻璃","v":1721},{"d":"2020-08-30","s":"CZCE玻璃","v":1857},{"d":"2020-09-08","s":"CZCE玻璃","v":1766},{"d":"2020-09-18","s":"CZCE玻璃","v":1653},{"d":"2020-10-01","s":"CZCE玻璃","v":1730},{"d":"2020-10-13","s":"CZCE玻璃","v":1744},{"d":"2020-10-26","s":"CZCE玻璃","v":1744},{"d":"2020-11-11","s":"CZCE玻璃","v":1857},{"d":"2020-11-27","s":"CZCE玻璃","v":1857},{"d":"2020-12-10","s":"CZCE玻璃","v":1993},{"d":"2020-12-20","s":"CZCE玻璃","v":1925},{"d":"2020-12-29","s":"CZCE玻璃","v":1880},{"d":"2021-01-08","s":"CZCE玻璃","v":1812},{"d":"2021-01-17","s":"CZCE玻璃","v":1721},{"d":"2021-01-27","s":"CZCE玻璃","v":1812},{"d":"2021-02-06","s":"CZCE玻璃","v":1857},{"d":"2021-02-18","s":"CZCE玻璃","v":1948},{"d":"2021-02-28","s":"CZCE玻璃","v":2084},{"d":"2021-03-06","s":"CZCE玻璃","v":2106},{"d":"2021-03-16","s":"CZCE玻璃","v":2016},{"d":"2021-03-26","s":"CZCE玻璃","v":2129},{"d":"2021-04-07","s":"CZCE玻璃","v":2152},{"d":"2021-04-20","s":"CZCE玻璃","v":2265},{"d":"2021-04-26","s":"CZCE玻璃","v":2356},{"d":"2021-05-03","s":"CZCE玻璃","v":2537},{"d":"2021-05-09","s":"CZCE玻璃","v":2854},{"d":"2021-05-12","s":"CZCE玻璃","v":2899},{"d":"2021-05-22","s":"CZCE玻璃","v":2582},{"d":"2021-06-01","s":"CZCE玻璃","v":2695},{"d":"2021-06-10","s":"CZCE玻璃","v":2627},{"d":"2021-06-17","s":"CZCE玻璃","v":2718},{"d":"2021-06-26","s":"CZCE玻璃","v":2831},{"d":"2021-07-06","s":"CZCE玻璃","v":2945},{"d":"2021-07-14","s":"CZCE玻璃","v":3081},{"d":"2021-07-22","s":"CZCE玻璃","v":3012},{"d":"2021-07-31","s":"CZCE玻璃","v":2899},{"d":"2021-08-07","s":"CZCE玻璃","v":2741},{"d":"2021-08-16","s":"CZCE玻璃","v":2786},{"d":"2021-08-26","s":"CZCE玻璃","v":2673},{"d":"2021-09-03","s":"CZCE玻璃","v":2763},{"d":"2021-09-11","s":"CZCE玻璃","v":2446},{"d":"2021-09-21","s":"CZCE玻璃","v":2265},{"d":"2021-10-03","s":"CZCE玻璃","v":2288},{"d":"2021-10-13","s":"CZCE玻璃","v":2446},{"d":"2021-10-21","s":"CZCE玻璃","v":2265},{"d":"2021-10-26","s":"CZCE玻璃","v":2038},{"d":"2021-10-29","s":"CZCE玻璃","v":1993}]
},
"vconcat": [
{"spacing": 4, "resolve": {"scale": {"color": "independent", "fill": "independent", "stroke": "independent"}, "legend": {"color": "independent", "fill": "independent", "stroke": "independent"}}, "vconcat": [
 {"spacing": 0, "vconcat": [
  {"width": 1017, "height": 6, "data": {"values": [{"k": 1}]}, "mark": {"type": "point", "opacity": 0, "size": 0}, "encoding": {}, "view": {"fill": "#7030A0", "stroke": null}},
  {"width": 1017, "height": 3, "data": {"values": [{"k": 1}]}, "mark": {"type": "point", "opacity": 0, "size": 0}, "encoding": {}, "view": {"fill": "#A6A6A6", "stroke": null}}
 ]},
 {"spacing": 0, "hconcat": [
  {"width": 533, "height": 3, "title": {"text": "图 7：尿素 05-01 合约价差（元/吨）", "dx": 32, "offset": 15}, "data": {"values": [{"k": 1}]}, "mark": {"type": "point", "opacity": 0, "size": 0}, "encoding": {}, "view": {"fill": "#9B0E9F", "stroke": null}},
  {"width": 484, "height": 3, "title": {"text": "图 8：纯碱 05-01 合约价差（元/吨）", "dx": 10, "offset": 15}, "data": {"values": [{"k": 1}]}, "mark": {"type": "point", "opacity": 0, "size": 0}, "encoding": {}, "view": {"fill": "#9B0E9F", "stroke": null}}
 ]},
 {"spacing": 7, "resolve": {"scale": {"color": "independent", "fill": "independent", "stroke": "independent"}, "legend": {"color": "independent", "fill": "independent", "stroke": "independent"}}, "vconcat": [
 {"spacing": 0, "resolve": {"scale": {"color": "independent", "fill": "independent", "stroke": "independent"}, "legend": {"color": "independent", "fill": "independent", "stroke": "independent"}}, "hconcat": [
  {"width": 16, "height": 1, "data": {"values": [{"k": 1}]}, "mark": {"type": "point", "opacity": 0, "size": 0}, "encoding": {}},
  {"spacing": 80, "resolve": {"scale": {"color": "independent", "fill": "independent", "stroke": "independent"}, "legend": {"color": "independent", "fill": "independent", "stroke": "independent"}}, "hconcat": [
  {"width": 378, "height": 285,
   "encoding": {"x": {"field": "d", "type": "temporal", "scale": {"type": "utc", "domain": [{"year": 2021, "month": 7, "date": 6, "utc": true}, {"year": 2021, "month": 10, "date": 28, "utc": true}]}, "axis": {"title": null, "format": "%Y-%m-%d", "labelAngle": 0, "values": [{"year": 2021, "month": 7, "date": 6, "utc": true}, {"year": 2021, "month": 8, "date": 6, "utc": true}, {"year": 2021, "month": 9, "date": 6, "utc": true}, {"year": 2021, "month": 10, "date": 6, "utc": true}]}}},
   "layer": [
    {"data": {"name": "p7area"}, "mark": {"type": "area", "opacity": 1},
     "encoding": {"y": {"field": "v", "type": "quantitative", "scale": {"domain": [-350, 27.8], "nice": false, "zero": false}, "axis": {"orient": "right", "title": null, "grid": false, "values": [-350, -300, -250, -200, -150, -100, -50, 0]}}, "y2": {"datum": 0},
      "fill": {"datum": "05-01合约价差", "type": "nominal", "scale": {"range": ["#FFC000"]}, "legend": {"title": null, "orient": "none", "legendX": -4, "legendY": 319, "symbolType": "M-4,-0.8H4V0.8H-4Z", "symbolStrokeWidth": 0}}}},
    {"data": {"name": "p7line"}, "mark": {"type": "line", "strokeWidth": 2.8},
     "encoding": {"y": {"field": "v", "type": "quantitative", "scale": {"domain": [1600, 3543.2], "nice": false, "zero": false}, "axis": {"orient": "left", "title": null, "grid": true, "values": [1600, 1800, 2000, 2200, 2400, 2600, 2800, 3000, 3200, 3400]}},
      "stroke": {"field": "s", "type": "nominal", "scale": {"domain": ["UR201.CZC", "UR205.CZC"], "range": ["#C00000", "#7030A0"]}, "legend": {"title": null, "orient": "none", "legendX": 143, "legendY": 319, "direction": "horizontal", "columnPadding": 13, "symbolType": "M-4,0H4"}}}}
   ],
   "resolve": {"scale": {"y": "independent"}}
  },
  {"width": 382, "height": 284,
   "encoding": {"x": {"field": "d", "type": "temporal", "scale": {"type": "utc", "domain": [{"year": 2021, "month": 7, "date": 6, "utc": true}, {"year": 2021, "month": 10, "date": 28, "utc": true}]}, "axis": {"title": null, "format": "%Y-%m-%d", "labelAngle": 0, "values": [{"year": 2021, "month": 7, "date": 6, "utc": true}, {"year": 2021, "month": 8, "date": 6, "utc": true}, {"year": 2021, "month": 9, "date": 6, "utc": true}, {"year": 2021, "month": 10, "date": 6, "utc": true}]}}},
   "layer": [
    {"data": {"name": "p8area"}, "mark": {"type": "area", "opacity": 1},
     "encoding": {"y": {"field": "v", "type": "quantitative", "scale": {"domain": [-500, 247.4], "nice": false, "zero": false}, "axis": {"orient": "right", "title": null, "grid": false, "values": [-500, -400, -300, -200, -100, 0, 100, 200]}}, "y2": {"datum": 0},
      "fill": {"datum": "05-01合约价差", "type": "nominal", "scale": {"range": ["#C8C8C8"]}, "legend": {"title": null, "orient": "none", "legendX": -2, "legendY": 317, "symbolType": "M-4,-0.8H4V0.8H-4Z", "symbolStrokeWidth": 0}}}},
    {"data": {"name": "p8line"}, "mark": {"type": "line", "strokeWidth": 2.8},
     "encoding": {"y": {"field": "v", "type": "quantitative", "scale": {"domain": [2000, 3921.8], "nice": false, "zero": false}, "axis": {"orient": "left", "title": null, "grid": true, "values": [2000, 2200, 2400, 2600, 2800, 3000, 3200, 3400, 3600, 3800]}},
      "stroke": {"field": "s", "type": "nominal", "scale": {"domain": ["SA205.CZC", "SA201.CZC"], "range": ["#7030A0", "#C00000"]}, "legend": {"title": null, "orient": "none", "legendX": 161, "legendY": 317, "direction": "horizontal", "columnPadding": 29, "symbolType": "M-4,0H4"}}}}
   ],
   "resolve": {"scale": {"y": "independent"}}
  }
  ]}
 ]},
 {"width": 1017, "height": 3, "data": {"values": [{"k": 1}]}, "mark": {"type": "point", "opacity": 0, "size": 0}, "encoding": {}, "view": {"fill": "#9B0E9F", "stroke": null}}
 ]}
]},
{"spacing": 4, "resolve": {"scale": {"color": "independent", "fill": "independent", "stroke": "independent"}, "legend": {"color": "independent", "fill": "independent", "stroke": "independent"}}, "vconcat": [
 {"spacing": 0, "hconcat": [
  {"width": 533, "height": 3, "title": {"text": "图 9：尿素现货价格走势图（元/吨）", "dx": 32, "offset": 17}, "data": {"values": [{"k": 1}]}, "mark": {"type": "point", "opacity": 0, "size": 0}, "encoding": {}, "view": {"fill": "#9B0E9F", "stroke": null}},
  {"width": 484, "height": 3, "title": {"text": "图 10：纯碱现货价格走势图（元/吨）", "dx": 10, "offset": 17}, "data": {"values": [{"k": 1}]}, "mark": {"type": "point", "opacity": 0, "size": 0}, "encoding": {}, "view": {"fill": "#9B0E9F", "stroke": null}}
 ]},
 {"spacing": 0, "resolve": {"scale": {"color": "independent", "fill": "independent", "stroke": "independent"}, "legend": {"color": "independent", "fill": "independent", "stroke": "independent"}}, "vconcat": [
 {"spacing": 0, "resolve": {"scale": {"color": "independent", "fill": "independent", "stroke": "independent"}, "legend": {"color": "independent", "fill": "independent", "stroke": "independent"}}, "hconcat": [
  {"width": 16, "height": 1, "data": {"values": [{"k": 1}]}, "mark": {"type": "point", "opacity": 0, "size": 0}, "encoding": {}},
  {"spacing": 66, "resolve": {"scale": {"color": "independent", "fill": "independent", "stroke": "independent"}, "legend": {"color": "independent", "fill": "independent", "stroke": "independent"}}, "hconcat": [
  {"width": 401, "height": 238, "data": {"name": "p9"},
   "transform": [{"fold": ["安徽", "山东", "河南", "河北", "山西", "江苏", "东北"], "as": ["s", "v"]}],
   "mark": {"type": "line", "strokeWidth": 2.3},
   "encoding": {
    "x": {"field": "d", "type": "temporal", "scale": {"type": "utc", "domain": [{"year": 2015, "month": 10, "date": 9, "utc": true}, {"year": 2021, "month": 10, "date": 25, "utc": true}]}, "axis": {"title": null, "format": "%Y-%m-%d", "labelAngle": -45, "values": [{"year": 2015, "month": 10, "date": 9, "utc": true}, {"year": 2016, "month": 10, "date": 9, "utc": true}, {"year": 2017, "month": 10, "date": 9, "utc": true}, {"year": 2018, "month": 10, "date": 9, "utc": true}, {"year": 2019, "month": 10, "date": 9, "utc": true}, {"year": 2020, "month": 10, "date": 9, "utc": true}, {"year": 2021, "month": 10, "date": 9, "utc": true}]}},
    "y": {"field": "v", "type": "quantitative", "scale": {"domain": [900, 3704.2], "nice": false, "zero": false}, "axis": {"title": null, "grid": true, "values": [900, 1400, 1900, 2400, 2900, 3400]}},
    "color": {"field": "s", "type": "nominal", "scale": {"domain": ["山东", "河南", "河北", "安徽", "江苏", "山西", "东北"], "range": ["#DDB9DD", "#ED7D31", "#C71AA8", "#ABABAB", "#FFC000", "#8B2A8B", "#C00000"]},
     "legend": {"title": null, "orient": "none", "legendX": -18, "legendY": 307.5, "direction": "horizontal", "columns": 4, "columnPadding": 47, "rowPadding": 3, "symbolType": "M-4,0H4"}}
   }
  },
  {"width": 401, "height": 253.5, "data": {"name": "p10"},
   "transform": [{"fold": ["重碱市场价格", "轻碱市场价格"], "as": ["s", "v"]}],
   "mark": {"type": "line", "strokeWidth": 2.5},
   "encoding": {
    "x": {"field": "d", "type": "temporal", "scale": {"type": "utc", "domain": [{"year": 2006, "month": 1, "date": 5, "utc": true}, {"year": 2021, "month": 10, "date": 27, "utc": true}]}, "axis": {"title": null, "format": "%Y-%m-%d", "labelAngle": -45, "values": [{"year": 2006, "month": 1, "date": 5, "utc": true}, {"year": 2007, "month": 1, "date": 5, "utc": true}, {"year": 2008, "month": 1, "date": 5, "utc": true}, {"year": 2009, "month": 1, "date": 5, "utc": true}, {"year": 2010, "month": 1, "date": 5, "utc": true}, {"year": 2011, "month": 1, "date": 5, "utc": true}, {"year": 2012, "month": 1, "date": 5, "utc": true}, {"year": 2013, "month": 1, "date": 5, "utc": true}, {"year": 2014, "month": 1, "date": 5, "utc": true}, {"year": 2015, "month": 1, "date": 5, "utc": true}, {"year": 2016, "month": 1, "date": 5, "utc": true}, {"year": 2017, "month": 1, "date": 5, "utc": true}, {"year": 2018, "month": 1, "date": 5, "utc": true}, {"year": 2019, "month": 1, "date": 5, "utc": true}, {"year": 2020, "month": 1, "date": 5, "utc": true}, {"year": 2021, "month": 1, "date": 5, "utc": true}]}},
    "y": {"field": "v", "type": "quantitative", "scale": {"domain": [1000, 4212.9], "nice": false, "zero": false}, "axis": {"title": null, "grid": true, "values": [1000, 1500, 2000, 2500, 3000, 3500, 4000]}},
    "color": {"field": "s", "type": "nominal", "scale": {"domain": ["重碱市场价格", "轻碱市场价格"], "range": ["#9B5FD0", "#FFC000"]},
     "legend": {"title": null, "orient": "none", "legendX": 34, "legendY": 321.5, "direction": "horizontal", "columnPadding": 71, "symbolType": "M-4,0H4"}}
   }
  }
  ]}
 ]},
 {"width": 1017, "height": 3, "data": {"values": [{"k": 1}]}, "mark": {"type": "point", "opacity": 0, "size": 0}, "encoding": {}, "view": {"fill": "#9B0E9F", "stroke": null}}
 ]}
]},
{"spacing": 4, "resolve": {"scale": {"color": "independent", "fill": "independent", "stroke": "independent"}, "legend": {"color": "independent", "fill": "independent", "stroke": "independent"}}, "vconcat": [
 {"spacing": 0, "hconcat": [
  {"width": 533, "height": 3, "title": {"text": "图 11：尿素-甲醇期货价差（元/吨）", "dx": 32, "offset": 13}, "data": {"values": [{"k": 1}]}, "mark": {"type": "point", "opacity": 0, "size": 0}, "encoding": {}, "view": {"fill": "#9B0E9F", "stroke": null}},
  {"width": 484, "height": 3, "title": {"text": "图 12：玻璃-纯碱期货价差（元/吨）", "dx": 10, "offset": 13}, "data": {"values": [{"k": 1}]}, "mark": {"type": "point", "opacity": 0, "size": 0}, "encoding": {}, "view": {"fill": "#9B0E9F", "stroke": null}}
 ]},
 {"spacing": 11, "resolve": {"scale": {"color": "independent", "fill": "independent", "stroke": "independent"}, "legend": {"color": "independent", "fill": "independent", "stroke": "independent"}}, "vconcat": [
 {"spacing": 0, "resolve": {"scale": {"color": "independent", "fill": "independent", "stroke": "independent"}, "legend": {"color": "independent", "fill": "independent", "stroke": "independent"}}, "hconcat": [
  {"width": 17, "height": 1, "data": {"values": [{"k": 1}]}, "mark": {"type": "point", "opacity": 0, "size": 0}, "encoding": {}},
  {"spacing": 73, "resolve": {"scale": {"color": "independent", "fill": "independent", "stroke": "independent"}, "legend": {"color": "independent", "fill": "independent", "stroke": "independent"}}, "hconcat": [
  {"width": 383, "height": 248,
   "encoding": {"x": {"field": "d", "type": "temporal", "scale": {"type": "utc", "domain": [{"year": 2019, "month": 12, "date": 6, "utc": true}, {"year": 2021, "month": 10, "date": 28, "utc": true}]}, "axis": {"title": null, "format": "%Y-%m-%d", "labelAngle": -45, "values": [{"year": 2019, "month": 12, "date": 6, "utc": true}, {"year": 2020, "month": 2, "date": 6, "utc": true}, {"year": 2020, "month": 4, "date": 6, "utc": true}, {"year": 2020, "month": 6, "date": 6, "utc": true}, {"year": 2020, "month": 8, "date": 6, "utc": true}, {"year": 2020, "month": 10, "date": 6, "utc": true}, {"year": 2020, "month": 12, "date": 6, "utc": true}, {"year": 2021, "month": 2, "date": 6, "utc": true}, {"year": 2021, "month": 4, "date": 6, "utc": true}, {"year": 2021, "month": 6, "date": 6, "utc": true}, {"year": 2021, "month": 8, "date": 6, "utc": true}, {"year": 2021, "month": 10, "date": 6, "utc": true}]}}},
   "layer": [
    {"data": {"name": "p11area"}, "mark": {"type": "area", "opacity": 1},
     "encoding": {"y": {"field": "v", "type": "quantitative", "scale": {"domain": [-800, 167.1], "nice": false, "zero": false}, "axis": {"orient": "right", "title": null, "grid": false, "values": [-800, -700, -600, -500, -400, -300, -200, -100, 0, 100]}}, "y2": {"datum": 0},
      "fill": {"datum": "尿素-甲醇价差", "type": "nominal", "scale": {"range": ["#FFC000"]}, "legend": {"title": null, "orient": "none", "legendX": 1, "legendY": 315.5, "symbolType": "M-4,-0.8H4V0.8H-4Z", "symbolStrokeWidth": 0}}}},
    {"data": {"name": "p11line"}, "mark": {"type": "line", "strokeWidth": 2.3},
     "encoding": {"y": {"field": "v", "type": "quantitative", "scale": {"domain": [1500, 4723.8], "nice": false, "zero": false}, "axis": {"orient": "left", "title": null, "grid": true, "values": [1500, 2000, 2500, 3000, 3500, 4000, 4500]}},
      "stroke": {"field": "s", "type": "nominal", "scale": {"domain": ["CZCE尿素", "CZCE甲醇"], "range": ["#C00000", "#7030A0"]}, "legend": {"title": null, "orient": "none", "legendX": 155, "legendY": 315.5, "direction": "horizontal", "columnPadding": 24, "symbolType": "M-4,0H4"}}}}
   ],
   "resolve": {"scale": {"y": "independent"}}
  },
  {"width": 361, "height": 238,
   "encoding": {"x": {"field": "d", "type": "temporal", "scale": {"type": "utc", "domain": [{"year": 2019, "month": 12, "date": 6, "utc": true}, {"year": 2021, "month": 10, "date": 29, "utc": true}]}, "axis": {"title": null, "format": "%Y-%m-%d", "labelAngle": -45, "values": [{"year": 2019, "month": 12, "date": 6, "utc": true}, {"year": 2020, "month": 2, "date": 6, "utc": true}, {"year": 2020, "month": 4, "date": 6, "utc": true}, {"year": 2020, "month": 6, "date": 6, "utc": true}, {"year": 2020, "month": 8, "date": 6, "utc": true}, {"year": 2020, "month": 10, "date": 6, "utc": true}, {"year": 2020, "month": 12, "date": 6, "utc": true}, {"year": 2021, "month": 2, "date": 6, "utc": true}, {"year": 2021, "month": 4, "date": 6, "utc": true}, {"year": 2021, "month": 6, "date": 6, "utc": true}, {"year": 2021, "month": 8, "date": 6, "utc": true}, {"year": 2021, "month": 10, "date": 6, "utc": true}]}}},
   "layer": [
    {"data": {"name": "p12area"}, "mark": {"type": "area", "opacity": 1},
     "encoding": {"y": {"field": "v", "type": "quantitative", "scale": {"domain": [-1500, 1194.9], "nice": false, "zero": false}, "axis": {"orient": "right", "title": null, "grid": false, "values": [-1500, -1000, -500, 0, 500, 1000]}}, "y2": {"datum": 0},
      "fill": {"datum": "玻璃-纯碱价差", "type": "nominal", "scale": {"range": ["#FFC000"]}, "legend": {"title": null, "orient": "none", "legendX": -9, "legendY": 315.5, "symbolType": "M-4,-0.8H4V0.8H-4Z", "symbolStrokeWidth": 0}}}},
    {"data": {"name": "p12line"}, "mark": {"type": "line", "strokeWidth": 2.3},
     "encoding": {"y": {"field": "v", "type": "quantitative", "scale": {"domain": [1200, 4433.9], "nice": false, "zero": false}, "axis": {"orient": "left", "title": null, "grid": true, "values": [1200, 1700, 2200, 2700, 3200, 3700, 4200]}},
      "stroke": {"field": "s", "type": "nominal", "scale": {"domain": ["CZCE纯碱", "CZCE玻璃"], "range": ["#C00000", "#7030A0"]}, "legend": {"title": null, "orient": "none", "legendX": 145, "legendY": 315.5, "direction": "horizontal", "columnPadding": 24, "symbolType": "M-4,0H4"}}}}
   ],
   "resolve": {"scale": {"y": "independent"}}
  }
  ]}
 ]},
 {"width": 1017, "height": 3, "data": {"values": [{"k": 1}]}, "mark": {"type": "point", "opacity": 0, "size": 0}, "encoding": {}, "view": {"fill": "#9B0E9F", "stroke": null}}
 ]}
]}
],
"config": {
 "view": {"stroke": null},
 "font": "Liberation Serif",
 "axis": {"labelFont": "Liberation Serif", "labelFontSize": 13.5, "labelColor": "#595959", "gridColor": "#D9D9D9", "gridWidth": 1, "domainColor": "#D9D9D9", "tickColor": "#D9D9D9", "labelOverlap": false, "labelFlush": false},
 "axisQuantitative": {"format": "d"},
 "axisY": {"domain": false, "ticks": false, "labelPadding": 11},
 "axisX": {"grid": false, "tickSize": 5, "labelPadding": 3},
 "legend": {"labelFont": "Liberation Serif, Noto Sans CJK SC", "labelFontSize": 13, "labelColor": "#595959", "padding": 0, "symbolSize": 100, "symbolStrokeWidth": 3, "labelOffset": 19},
 "title": {"font": "Noto Sans CJK SC", "fontSize": 23.5, "fontWeight": "bold", "color": "#000000", "anchor": "start"},
 "line": {"strokeJoin": "round"}
}
}
